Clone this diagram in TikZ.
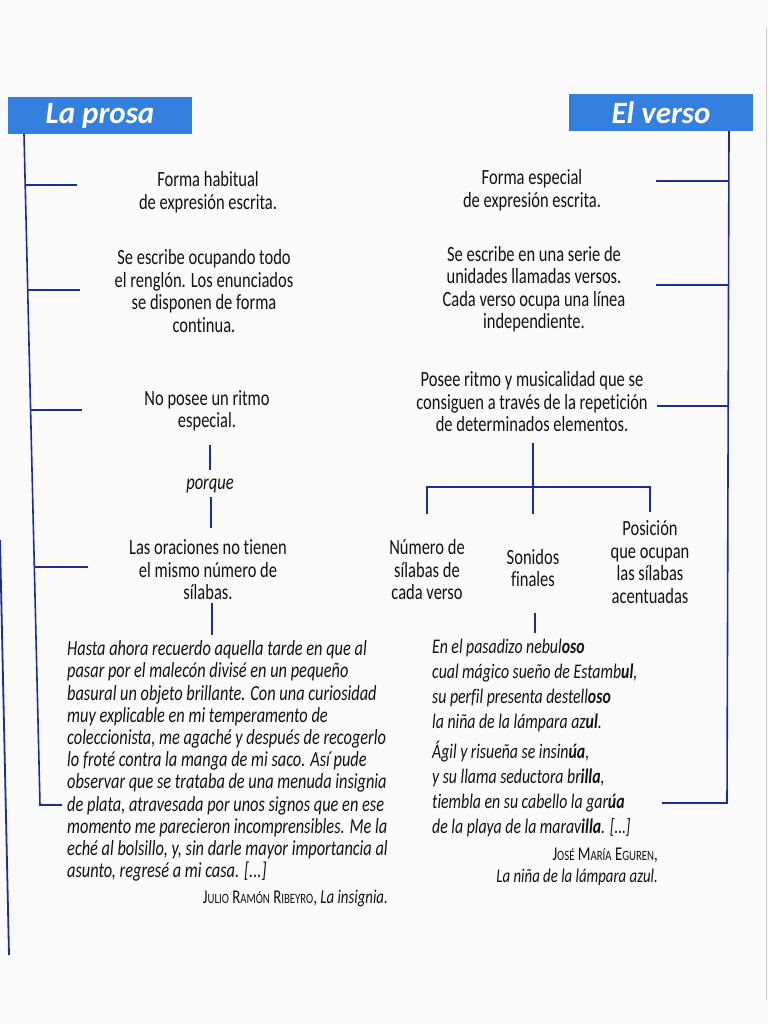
\documentclass[tikz,border=0pt]{standalone}
\usepackage{fontspec}
\setmainfont{Carlito}
\newfontfamily\bodyfont[FakeStretch=0.76, Ligatures=NoCommon]{Carlito}
\usetikzlibrary{positioning}
\usetikzlibrary{calc}

\definecolor{headblue}{RGB}{52,128,222}
\definecolor{linkblue}{RGB}{30,44,150}
\definecolor{inkgray}{RGB}{18,18,18}
\definecolor{pagebg}{RGB}{250,250,250}
\newcommand{\scfake}[1]{{\fontsize{14.2}{15}\selectfont #1}}

\tikzset{
  header/.style={fill=headblue, text=white, font=\fontsize{31}{34}\selectfont\bfseries\itshape,
    minimum width=184pt, minimum height=37pt, inner sep=0pt},
  link/.style={draw=linkblue, line width=1.6pt},
  txt/.style={font=\bodyfont\fontsize{21.7}{22.5}\selectfont, text=inkgray, align=center, inner sep=0pt},
  quote/.style={font=\bodyfont\itshape\fontsize{21.5}{22.2}\selectfont, text=inkgray, align=left, inner sep=0pt},
  verse/.style={font=\bodyfont\itshape\fontsize{20.8}{25}\selectfont, text=inkgray, align=left, inner sep=0pt},
  cite/.style={font=\bodyfont\fontsize{19.5}{22}\selectfont, text=inkgray, align=right, inner sep=0pt},
}

\begin{document}
\begin{tikzpicture}[x=1pt, y=-1pt]
\useasboundingbox (0,0) rectangle (768,1024);
\fill[pagebg] (0,0) rectangle (768,1024);

% page edges of the scan
\draw[link, line width=1.8pt] (0,540) -- (9,955);
\draw[gray!45, line width=1pt] (766,28) -- (766,1000);

% headers
\node[header] (prosa) at (100,115.5) {La prosa};
\node[header] (verso) at (661,112.5) {El verso};

% left column
\node[txt] (forma1) at (208,192) {Forma habitual\\de expresión escrita.};
\node[txt] (escribe1) at (204,291) {Se escribe ocupando todo\\el renglón. Los enunciados\\se disponen de forma\\continua.};
\node[txt] (ritmo1) at (207,411) {No posee un ritmo\\especial.};
\node[txt, font=\bodyfont\itshape\fontsize{21.7}{22.5}\selectfont] (porque) at (210,486) {porque};
\node[txt] (oraciones) at (208,570) {Las oraciones no tienen\\el mismo número de\\sílabas.};

\node[quote, anchor=west] (prose) at (67,761) {Hasta ahora recuerdo aquella tarde en que al\\
pasar por el malecón divisé en un pequeño\\
basural un objeto brillante. Con una curiosidad\\
muy explicable en mi temperamento de\\
coleccionista, me agaché y después de recogerlo\\
lo froté contra la manga de mi saco. Así pude\\
observar que se trataba de una menuda insignia\\
de plata, atravesada por unos signos que en ese\\
momento me parecieron incomprensibles. Me la\\
eché al bolsillo, y, sin darle mayor importancia al\\
asunto, regresé a mi casa. [...]};
\node[cite, anchor=east] (ribeyro) at (388,898) {J\scfake{ULIO} R\scfake{AMÓN} R\scfake{IBEYRO}, \textit{La insignia.}};

% left trunk
\coordinate (lt0) at (24,134);
\coordinate (ltb) at (40,805);
\coordinate (leb) at (62,805);
\coordinate (lt1) at (25.2,185);
\coordinate (le1) at (77,185);
\coordinate (lt2) at (27.7,290);
\coordinate (le2) at (80,290);
\coordinate (lt3) at (30.6,410);
\coordinate (le3) at (82,410);
\coordinate (lt4) at (34.3,567);
\coordinate (le4) at (88,567);
\draw[link] (lt0) -- (ltb) -- (leb);
\draw[link] (lt1) -- (le1);
\draw[link] (lt2) -- (le2);
\draw[link] (lt3) -- (le3);
\draw[link] (lt4) -- (le4);

% porque links
\coordinate (p1) at (210,445);
\coordinate (p2) at (210,470);
\coordinate (p3) at (211,497);
\coordinate (p4) at (211,528);
\coordinate (p5) at (212,603);
\coordinate (p6) at (212,635);
\draw[link] (p1) -- (p2);
\draw[link] (p3) -- (p4);
\draw[link] (p5) -- (p6);

% right column
\node[txt] (forma2) at (532,190) {Forma especial\\de expresión escrita.};
\node[txt] (escribe2) at (534,289) {Se escribe en una serie de\\unidades llamadas versos.\\Cada verso ocupa una línea\\independiente.};
\node[txt] (posee) at (532,402) {Posee ritmo y musicalidad que se\\consiguen a través de la repetición\\de determinados elementos.};

\node[txt] (numero) at (427,570) {Número de\\sílabas de\\cada verso};
\node[txt] (sonidos) at (533,568) {Sonidos\\finales};
\node[txt] (posicion) at (650,562) {Posición\\que ocupan\\las sílabas\\acentuadas};

\node[verse, anchor=west] (poem) at (432,738) {En el pasadizo nebul\textbf{oso}\\
cual mágico sueño de Estamb\textbf{ul},\\
su perfil presenta destell\textbf{oso}\\
la niña de la lámpara az\textbf{ul}.\\[5pt]
Ágil y risueña se insin\textbf{úa},\\
y su llama seductora br\textbf{illa},\\
tiembla en su cabello la gar\textbf{úa}\\
de la playa de la marav\textbf{illa}. [\dots]};
\node[cite, anchor=east] (eguren) at (658,867) {J\scfake{OSÉ} M\scfake{ARÍA} E\scfake{GUREN},\\\textit{La niña de la lámpara azul.}};

% right trunk
\coordinate (rt0) at (729,131);
\coordinate (rtb) at (727,803);
\coordinate (reb) at (662,803);
\coordinate (rt1) at (729,181);
\coordinate (re1) at (656,181);
\coordinate (rt2) at (728,285);
\coordinate (re2) at (656,285);
\coordinate (rt3) at (728,406);
\coordinate (re3) at (657,406);
\draw[link] (rt0) -- (rtb) -- (reb);
\draw[link] (rt1) -- (re1);
\draw[link] (rt2) -- (re2);
\draw[link] (rt3) -- (re3);

% elements tree
\coordinate (t0) at (533,443);
\coordinate (fork) at (533,487);
\coordinate (fl) at (427,487);
\coordinate (fr) at (650,487);
\coordinate (dl) at (427,514);
\coordinate (dm) at (533,514);
\coordinate (dr) at (650,512);
\draw[link] (t0) -- (fork);
\draw[link] (dl) -- (fl) -- (fr) -- (dr);
\draw[link] (fork) -- (dm);
\coordinate (s1) at (535,613);
\coordinate (s2) at (535,633);
\draw[link] (s1) -- (s2);
\end{tikzpicture}
\end{document}
